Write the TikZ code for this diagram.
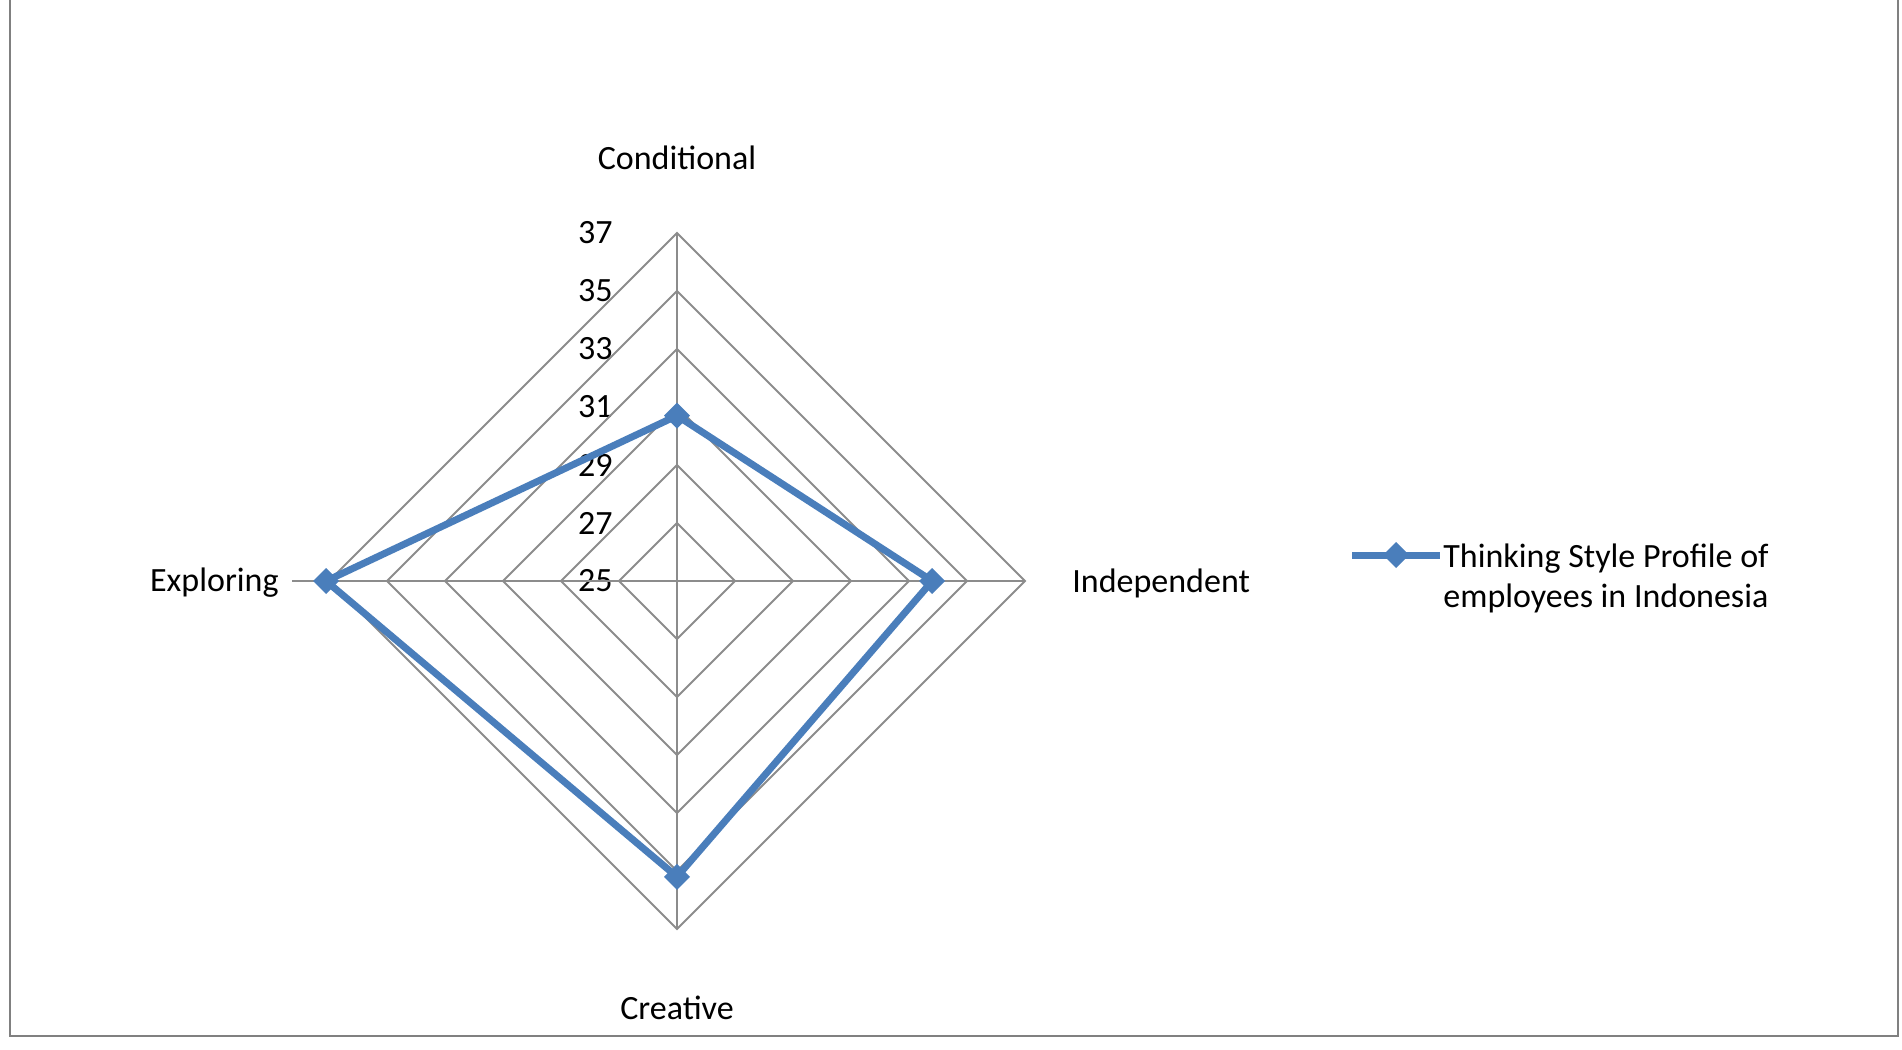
\documentclass[tikz,border=0pt]{standalone}
\usepackage{fontspec}
\setmainfont{Carlito}
\usetikzlibrary{calc}
\begin{document}
\begin{tikzpicture}[x=0.5pt,y=-0.5pt,
  grid/.style={draw=gray!90,line width=1pt},
  lbl/.style={font=\fontsize{17}{20}\selectfont,inner sep=0pt},
  tick/.style={font=\fontsize{17}{20}\selectfont,inner sep=0pt,anchor=east}]
\definecolor{ser}{RGB}{74,126,187}
\tikzset{series/.style={draw=ser,line width=3.5pt,line join=round}}
\useasboundingbox (0,0) rectangle (1902,1050);
\draw[gray,line width=1pt] (10,0) -- (10,1036) -- (1898,1036) -- (1898,0);
\coordinate (c) at (677,581);
\def\u{29.0}
\foreach \k in {0,...,6}{
  \pgfmathsetmacro\r{\k*2*\u}
  \draw[grid] ($(c)+(0,-\r)$) -- ($(c)+(\r,0)$) -- ($(c)+(0,\r)$) -- ($(c)+(-\r,0)$) -- cycle;
  \pgfmathtruncatemacro\v{25+2*\k}
  \node[tick] (t\k) at ($(c)+(-64,-\r)$) {\v};
}
\draw[grid] ($(c)+(0,-348)$) -- ($(c)+(0,348)$);
\draw[grid] ($(c)+(-385,0)$) -- ($(c)+(348,0)$);
\coordinate (pc) at ($(c)+(0,-5.7*\u)$);
\coordinate (pi) at ($(c)+(8.8*\u,0)$);
\coordinate (pk) at ($(c)+(0,10.2*\u)$);
\coordinate (pe) at ($(c)+(-12.1*\u,0)$);
\draw[series] (pc) -- (pi) -- (pk) -- (pe) -- cycle;
\foreach \p in {pc,pi,pk,pe}
  \fill[ser] ($(\p)+(0,-13)$) -- ($(\p)+(13,0)$) -- ($(\p)+(0,13)$) -- ($(\p)+(-13,0)$) -- cycle;
\node[lbl] (lc) at (677,158) {Conditional};
\node[lbl,anchor=west] (li) at (1072,583) {Independent};
\node[lbl,anchor=east] (le) at (279,583) {Exploring};
\node[lbl] (lk) at (677,1008) {Creative};
\coordinate (la) at (1352,555);
\coordinate (lb) at (1440,555);
\draw[series] (la) -- (lb);
\fill[ser] (1396,542) -- (1409,555) -- (1396,568) -- (1383,555) -- cycle;
\node[lbl,anchor=west,align=left] (lt) at (1443,578) {Thinking Style Profile of\\employees in Indonesia};
\end{tikzpicture}
\end{document}
